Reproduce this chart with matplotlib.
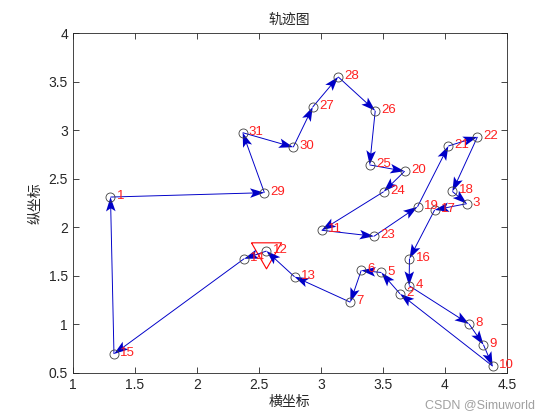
import numpy as np
import matplotlib
matplotlib.use('Agg')
import matplotlib.pyplot as plt

plt.rcParams['font.family'] = ['Liberation Sans', 'Noto Sans CJK SC', 'DejaVu Sans']

# city coordinates (x, y), city number = index + 1
city_x = [1.304, 3.639, 4.177, 3.712, 3.488, 3.326, 3.238, 4.196, 4.312, 4.386,
          3.007, 2.562, 2.788, 2.381, 1.332, 3.715, 3.918, 4.061, 3.780, 3.676,
          4.029, 4.263, 3.429, 3.507, 3.394, 3.439, 2.935, 3.140, 2.545, 2.778,
          2.370]
city_y = [2.312, 1.315, 2.244, 1.399, 1.535, 1.556, 1.229, 1.004, 0.790, 0.570,
          1.970, 1.756, 1.491, 1.676, 0.695, 1.678, 2.179, 2.370, 2.212, 2.578,
          2.838, 2.931, 1.908, 2.367, 2.643, 3.201, 3.240, 3.550, 2.357, 2.826,
          2.975]

# visiting order (closed loop), starting city marked with a triangle
route = [12, 14, 15, 1, 29, 31, 30, 27, 28, 26, 25, 20, 24, 11, 23, 19, 21, 22,
         18, 3, 17, 16, 4, 8, 9, 10, 2, 5, 6, 7, 13, 12]

x = np.array(city_x)
y = np.array(city_y)
idx = np.array(route) - 1

fig = plt.figure(figsize=(5.6, 4.2), dpi=100)
ax = fig.add_axes([0.130, 0.112, 0.775, 0.809])

# arrows between consecutive cities
x0, y0 = x[idx[:-1]], y[idx[:-1]]
u, v = x[idx[1:]] - x0, y[idx[1:]] - y0
ax.quiver(x0, y0, u, v, angles='xy', scale_units='xy', scale=1,
          color='#0000c8', width=0.0022, headwidth=10, headlength=15,
          headaxislength=12, zorder=2)

ax.plot(x, y, 'o', ms=6.5, mfc='none', mec='#404040', mew=0.6, zorder=3)

# MATLAB-style down triangle, centred on its centroid
tri = [(-1, 0.577), (1, 0.577), (0, -1.155), (-1, 0.577)]
ax.plot(x[idx[0]], y[idx[0]], marker=tri, ms=25, mfc='none', mec='red',
        mew=0.8, ls='none', zorder=1)

for i in range(len(x)):
    ax.text(x[i] + 0.05, y[i] + 0.01, str(i + 1), color='#ff2020', fontsize=9.5,
            va='center', ha='left', zorder=4)

ax.set_xlim(1, 4.5)
ax.set_ylim(0.5, 4)
ax.set_xticks(np.arange(1, 4.51, 0.5))
ax.set_yticks(np.arange(0.5, 4.01, 0.5))
ax.set_xticklabels(['1', '1.5', '2', '2.5', '3', '3.5', '4', '4.5'])
ax.set_yticklabels(['0.5', '1', '1.5', '2', '2.5', '3', '3.5', '4'])
ax.tick_params(direction='in', top=True, right=True, length=4, width=0.6,
               labelsize=10, colors='#262626')
for s in ax.spines.values():
    s.set_linewidth(0.6)
    s.set_color('#262626')

ax.set_title('轨迹图', fontsize=10, color='#262626', pad=7)
ax.set_xlabel('横坐标', fontsize=10, color='#262626', labelpad=2)
ax.set_ylabel('纵坐标', fontsize=10, color='#262626', labelpad=4)

fig.text(0.955, 0.035, 'CSDN @Simuworld', ha='right', va='center',
         fontsize=9, color='#a0a0a0')

fig.savefig('out.png', dpi=100)
